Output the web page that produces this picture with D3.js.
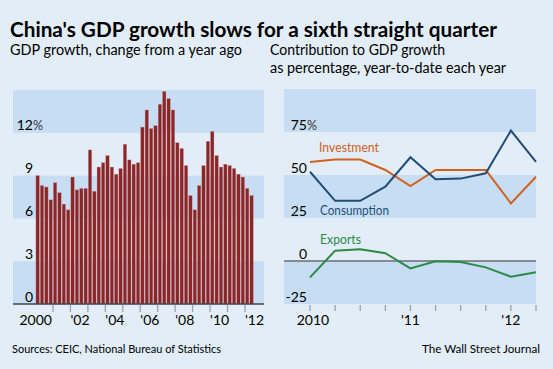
<!DOCTYPE html>
<html><head><meta charset="utf-8">
<script src="https://cdn.jsdelivr.net/npm/d3@7/dist/d3.min.js"></script>
<style>
html,body{margin:0;padding:0;background:#e2edf8;}
svg{display:block;}
text{font-family:Lato,"Open Sans",sans-serif;}
</style></head>
<body>
<script>
// ---------- DATA ----------
const gdpQuarters = d3.range(50).map(i => (2000 + Math.floor(i/4)) + "Q" + (i%4+1));
const gdpGrowth = [9.0,8.3,8.2,7.3,8.5,7.8,7.0,6.6,8.9,8.0,8.1,8.1,
                   10.8,7.9,9.6,9.9,10.4,9.6,9.1,9.5,11.2,10.1,9.8,9.9,
                   12.4,13.6,12.3,12.5,14.0,14.9,14.4,13.6,11.3,10.9,9.7,7.6,
                   6.6,8.3,9.7,11.4,12.1,10.4,9.6,9.8,9.7,9.5,9.1,8.9,8.1,7.6];
const leftYTicks = [0,3,6,9,12];
const leftYearLabels = ["2000","'02","'04","'06","'08","'10","'12"];
const leftYears = [2000,2002,2004,2006,2008,2010,2012];

const contribQuarters = ["2010Q1","2010Q2","2010Q3","2010Q4","2011Q1","2011Q2","2011Q3","2011Q4","2012Q1","2012Q2"];
const investment  = [57.5,59.0,59.0,52.9,43.6,52.9,52.9,52.9,33.5,49.0];
const consumption = [51.9,35.0,35.0,43.2,60.3,47.5,47.9,51.0,75.8,57.7];
const exportsC    = [-9.5,6.0,6.8,4.5,-4.3,-0.2,-0.6,-3.7,-9.1,-6.6];
const rightYTicks = [-25,0,25,50,75];
const rightXLabels = [{i:0,t:"2010"},{i:4,t:"'11"},{i:8,t:"'12"}];

// ---------- STYLE ----------
const BG = "#e2edf8", BAND = "#c6ddf3", BAR = "#8a2628";
const C_INV = "#d2601f", C_CON = "#1f4d78", C_EXP = "#2b8a46";

const W = 553, H = 369;
const svg = d3.select("body").append("svg").attr("width", W).attr("height", H);
svg.append("rect").attr("width", W).attr("height", H).attr("fill", BG);

// ---------- TITLES ----------
svg.append("text").attr("x", 10).attr("y", 36.5)
  .attr("font-family", "'DejaVu Serif Condensed','DejaVu Serif',serif")
  .attr("font-weight", "bold").attr("font-size", 21)
  .attr("textLength", 487).attr("lengthAdjust", "spacingAndGlyphs")
  .text("China's GDP growth slows for a sixth straight quarter");
svg.append("text").attr("x", 10).attr("y", 55).attr("font-size", 14.5)
  .attr("textLength", 232).attr("lengthAdjust", "spacingAndGlyphs")
  .text("GDP growth, change from a year ago");
svg.append("text").attr("x", 270).attr("y", 55).attr("font-size", 14.5)
  .attr("textLength", 175).attr("lengthAdjust", "spacingAndGlyphs")
  .text("Contribution to GDP growth");
svg.append("text").attr("x", 270).attr("y", 72.5).attr("font-size", 14.5)
  .attr("textLength", 236).attr("lengthAdjust", "spacingAndGlyphs")
  .text("as percentage, year-to-date each year");
svg.append("text").attr("x", 12).attr("y", 353).attr("font-size", 11.5)
  .attr("textLength", 209).attr("lengthAdjust", "spacingAndGlyphs")
  .text("Sources: CEIC, National Bureau of Statistics");
svg.append("text").attr("x", 540).attr("y", 353).attr("font-size", 11.5)
  .attr("text-anchor", "end")
  .attr("textLength", 118).attr("lengthAdjust", "spacingAndGlyphs")
  .text("The Wall Street Journal");

// ---------- LEFT CHART ----------
const yL = d3.scaleLinear().domain([0, 15]).range([304, 90]);
const xL = d3.scaleBand().domain(gdpQuarters).range([35.5, 253.7]).paddingInner(0.22).paddingOuter(0.1);
const xYear = d3.scaleLinear().domain([2000, 2012.5]).range([35.5, 253.7]);
const gL = svg.append("g");
[[0,3],[6,9],[12,15]].forEach(([a,b]) => {
  gL.append("rect").attr("x", 13).attr("width", 251)
    .attr("y", yL(b)).attr("height", yL(a) - yL(b)).attr("fill", BAND);
});
leftYTicks.forEach(v => {
  gL.append("text").attr("x", 33).attr("y", yL(v) - 2.5)
    .attr("text-anchor", "end").attr("font-size", 14).text(v);
  if (v === 12) gL.append("text").attr("x", 33).attr("y", yL(v) - 2.5)
    .attr("font-size", 12.5).attr("fill", "#333").text("%");
});
gL.selectAll("rect.bar").data(gdpGrowth).join("rect").attr("class", "bar")
  .attr("x", (d,i) => xL(gdpQuarters[i])).attr("width", xL.bandwidth())
  .attr("y", d => yL(d)).attr("height", d => yL(0) - yL(d))
  .attr("fill", BAR).attr("stroke", "#c88f92").attr("stroke-width", 0.35);
gL.append("line").attr("x1", 13).attr("x2", 264).attr("y1", yL(0)).attr("y2", yL(0))
  .attr("stroke", "#444").attr("stroke-width", 1.5);
d3.range(2001, 2013).forEach(yr => {
  gL.append("line").attr("x1", xYear(yr)).attr("x2", xYear(yr))
    .attr("y1", 305).attr("y2", 312).attr("stroke", "#9aa4ad").attr("stroke-width", 1.3);
});
leftYears.forEach((yr, k) => {
  const first = k === 0;
  gL.append("text")
    .attr("x", first ? xYear(yr + 1) - 1 : xYear(yr + 0.55))
    .attr("y", 325).attr("font-size", 14)
    .attr("text-anchor", first ? "end" : "middle")
    .text(leftYearLabels[k]);
});

// ---------- RIGHT CHART ----------
const yR = d3.scaleLinear().domain([-25, 100]).range([304, 89]);
const xR = d3.scaleLinear().domain([0, 9]).range([310, 536]);
const gR = svg.append("g");
[[-25,0],[25,50],[75,100]].forEach(([a,b]) => {
  gR.append("rect").attr("x", 284).attr("width", 252)
    .attr("y", yR(b)).attr("height", yR(a) - yR(b)).attr("fill", BAND);
});
rightYTicks.forEach(v => {
  gR.append("text").attr("x", 307).attr("y", yR(v) - 2.5)
    .attr("text-anchor", "end").attr("font-size", 14).text(v);
  if (v === 75) gR.append("text").attr("x", 307).attr("y", yR(v) - 2.5)
    .attr("font-size", 12.5).attr("fill", "#333").text("%");
});
gR.append("line").attr("x1", 284).attr("x2", 536).attr("y1", yR(0)).attr("y2", yR(0))
  .attr("stroke", "#6d6d6d").attr("stroke-width", 1.6);
contribQuarters.forEach((q, i) => {
  gR.append("line").attr("x1", xR(i)).attr("x2", xR(i))
    .attr("y1", 305).attr("y2", 311).attr("stroke", "#9aa4ad").attr("stroke-width", 1.3);
});
rightXLabels.forEach(d => {
  gR.append("text").attr("x", xR(d.i) + (d.i === 0 ? 3 : 0)).attr("y", 325)
    .attr("font-size", 14).attr("text-anchor", "middle").text(d.t);
});
const line = d3.line().x((d,i) => xR(i)).y(d => yR(d));
[[investment, C_INV],[consumption, C_CON],[exportsC, C_EXP]].forEach(([s, c]) => {
  gR.append("path").attr("d", line(s)).attr("fill", "none")
    .attr("stroke", c).attr("stroke-width", 2).attr("stroke-linejoin", "miter");
});
gR.append("text").attr("x", 319).attr("y", 151.5).attr("font-size", 13.5).attr("fill", C_INV)
  .attr("textLength", 60).attr("lengthAdjust", "spacingAndGlyphs").text("Investment");
gR.append("text").attr("x", 320).attr("y", 215).attr("font-size", 13.5).attr("fill", C_CON)
  .attr("textLength", 69).attr("lengthAdjust", "spacingAndGlyphs").text("Consumption");
gR.append("text").attr("x", 320).attr("y", 244).attr("font-size", 13.5).attr("fill", C_EXP)
  .attr("textLength", 41).attr("lengthAdjust", "spacingAndGlyphs").text("Exports");
</script>
</body></html>
